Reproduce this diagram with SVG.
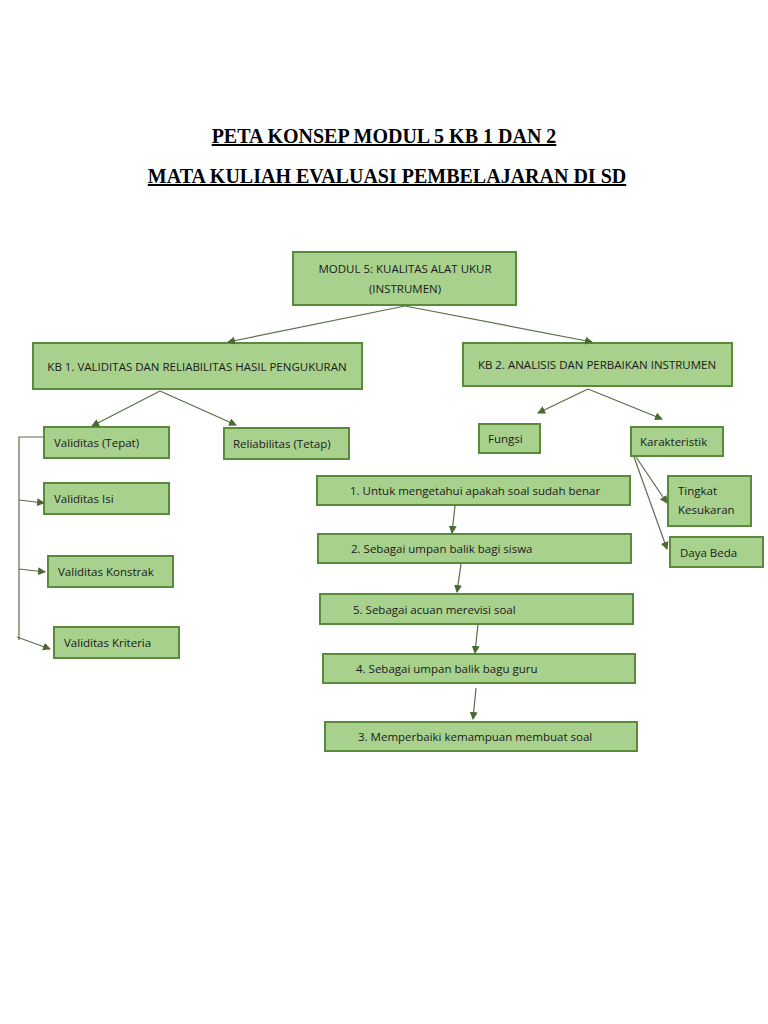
<svg xmlns="http://www.w3.org/2000/svg" width="768" height="1024" viewBox="0 0 768 1024">
<style>
.b{fill:#a9d18e;stroke:#5a8a3c;stroke-width:2}
.t{font-family:"Open Sans","Liberation Sans",sans-serif;font-size:11.5px;fill:#1a1a1a}
.c{text-anchor:middle}
.h{font-family:"Liberation Serif",serif;font-weight:bold;font-size:20px;text-anchor:middle;text-decoration:underline;fill:#000}
.l{stroke:#5a6e4a;stroke-width:1.2;fill:none}
</style>
<defs><marker id="a" markerWidth="8" markerHeight="8" refX="7" refY="4" orient="auto" markerUnits="userSpaceOnUse"><path d="M0,0L8,4L0,8z" fill="#4a6a30"/></marker></defs>
<rect width="768" height="1024" fill="#fff"/>
<text class="h" x="384" y="143">PETA KONSEP MODUL 5 KB 1 DAN 2</text>
<text class="h" x="387" y="183"> MATA KULIAH EVALUASI PEMBELAJARAN DI SD</text>
<g id="modul"><rect class="b" x="293" y="252" width="223" height="53"/><text class="t c" x="405" y="273">MODUL 5: KUALITAS ALAT UKUR</text><text class="t c" x="405" y="293">(INSTRUMEN)</text></g>
<g id="kb1"><rect class="b" x="33" y="343" width="329" height="46"/><text class="t c" x="197" y="371">KB 1. VALIDITAS DAN RELIABILITAS HASIL PENGUKURAN</text></g>
<g id="kb2"><rect class="b" x="463" y="343" width="269" height="43"/><text class="t c" x="597" y="369">KB 2. ANALISIS DAN PERBAIKAN INSTRUMEN</text></g>
<g id="vtepat"><rect class="b" x="44" y="427" width="125" height="31"/><text class="t" x="54" y="447">Validitas (Tepat)</text></g>
<g id="rel"><rect class="b" x="224" y="428" width="125" height="31"/><text class="t" x="233" y="448">Reliabilitas (Tetap)</text></g>
<g id="visi"><rect class="b" x="44" y="483" width="125" height="31"/><text class="t" x="54" y="503">Validitas Isi</text></g>
<g id="vkon"><rect class="b" x="48" y="556" width="125" height="31"/><text class="t" x="58" y="576">Validitas Konstrak</text></g>
<g id="vkri"><rect class="b" x="54" y="627" width="125" height="31"/><text class="t" x="64" y="647">Validitas Kriteria</text></g>
<g id="fungsi"><rect class="b" x="479" y="424" width="61" height="29"/><text class="t" x="488" y="443">Fungsi</text></g>
<g id="kar"><rect class="b" x="631" y="427" width="92" height="29"/><text class="t" x="640" y="446">Karakteristik</text></g>
<g id="tk"><rect class="b" x="668" y="476" width="83" height="50"/><text class="t" x="678" y="495">Tingkat</text><text class="t" x="678" y="514">Kesukaran</text></g>
<g id="db"><rect class="b" x="670" y="537" width="93" height="30"/><text class="t" x="680" y="557">Daya Beda</text></g>
<g id="f1"><rect class="b" x="317" y="476" width="313" height="29"/><text class="t" x="350" y="495">1.   Untuk mengetahui apakah soal sudah benar</text></g>
<g id="f2"><rect class="b" x="318" y="534" width="313" height="29"/><text class="t" x="351" y="553">2.   Sebagai umpan balik bagi siswa</text></g>
<g id="f5"><rect class="b" x="320" y="594" width="313" height="30"/><text class="t" x="353" y="614">5.   Sebagai acuan merevisi soal</text></g>
<g id="f4"><rect class="b" x="323" y="654" width="312" height="29"/><text class="t" x="356" y="673">4.   Sebagai umpan balik bagu guru</text></g>
<g id="f3"><rect class="b" x="325" y="722" width="312" height="29"/><text class="t" x="358" y="741">3.   Memperbaiki kemampuan membuat soal</text></g>
<g id="connectors">
<path class="l" marker-end="url(#a)" d="M405,306L228,342"/>
<path class="l" marker-end="url(#a)" d="M405,306L592,342"/>
<path class="l" marker-end="url(#a)" d="M160,391L92,426"/>
<path class="l" marker-end="url(#a)" d="M160,391L236,425"/>
<path class="l" marker-end="url(#a)" d="M588,389L538,413"/>
<path class="l" marker-end="url(#a)" d="M588,389L662,419"/>
<path class="l" marker-end="url(#a)" d="M636,457L667,503"/>
<path class="l" marker-end="url(#a)" d="M634,457L667,549"/>
<path class="l" d="M44,437H19V640M17,637"/>
<path class="l" marker-end="url(#a)" d="M19,500L44,503"/>
<path class="l" marker-end="url(#a)" d="M19,569L45,572"/>
<path class="l" marker-end="url(#a)" d="M17,637L50,649"/>
<path class="l" marker-end="url(#a)" d="M455,506L452,533"/>
<path class="l" marker-end="url(#a)" d="M461,564L457,592"/>
<path class="l" marker-end="url(#a)" d="M478,624L475,653"/>
<path class="l" marker-end="url(#a)" d="M476,688L473,719"/>
</g>
</svg>
